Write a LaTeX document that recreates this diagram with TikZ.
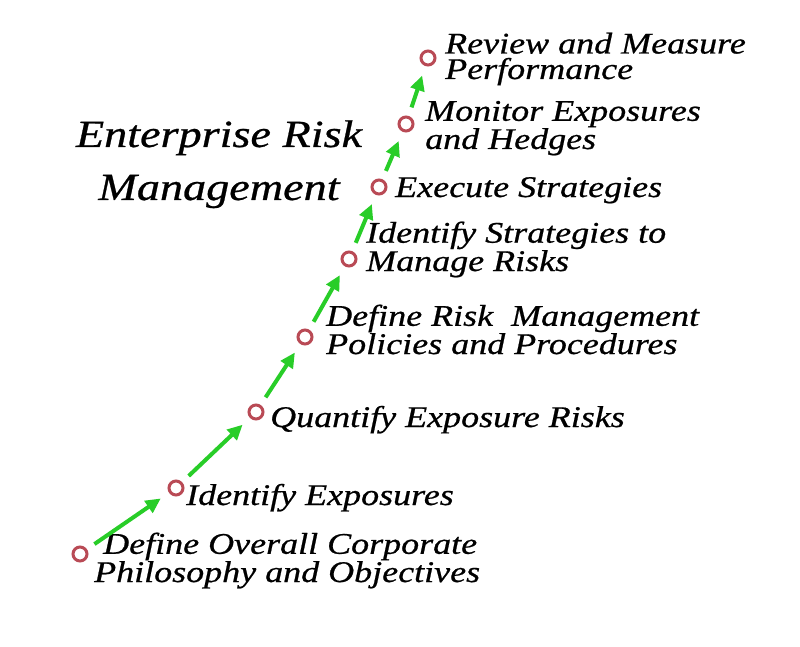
\documentclass[tikz,border=0pt]{standalone}
\usepackage{fontspec}
\usepackage{xcolor}
\usepackage{tikz}
\newfontfamily\stepfont{Liberation Serif Italic}[FakeStretch=1.2, FakeBold=0.7]
\definecolor{ringred}{RGB}{185, 74, 85}
\definecolor{arrowgreen}{RGB}{40, 205, 40}
\usetikzlibrary{arrows.meta}

\tikzset{
	stepdot/.style = {draw = ringred, circle, line width = 3pt, minimum size = 14pt, inner sep = 0pt, fill = white},
	steparrow/.style = {-{Triangle[length = 15pt, width = 14pt]}, draw = arrowgreen, line width = 4pt, shorten < = 9pt, shorten > = 10pt},
	steplabel/.style = {anchor = base west, align = left, inner sep = 0pt, font = \stepfont\fontsize{30}{25.5}\selectfont},
	titlelabel/.style = {anchor = base, align = center, inner sep = 0pt, font = \stepfont\fontsize{38.5}{53}\selectfont}
}

\begin{document}
\begin{tikzpicture}[x = 1pt, y = -1pt]
	\useasboundingbox[fill = white] (0,0) rectangle (800,647);
	
	% multi-line labels sit on the baseline of their last line
	\node[titlelabel] (title) at (219,200) {Enterprise Risk\\Management};
	
	\node[stepdot] (n1) at (80,554) {};
	\node[stepdot] (n2) at (176,488) {};
	\node[stepdot] (n3) at (256,412) {};
	\node[stepdot] (n4) at (305,337) {};
	\node[stepdot] (n5) at (349,259) {};
	\node[stepdot] (n6) at (379,187) {};
	\node[stepdot] (n7) at (406,124) {};
	\node[stepdot] (n8) at (428,58) {};
	
	\node[steplabel] (t1) at (94,582) {\hspace*{9pt}Define Overall Corporate\\Philosophy and Objectives};
	\node[steplabel] (t2) at (186,505) {Identify Exposures};
	\node[steplabel] (t3) at (270,427) {Quantify Exposure Risks};
	\node[steplabel] (t4) at (326,354) {Define Risk\ \ Management\\Policies and Procedures};
	\node[steplabel] (t5) at (366,271) {Identify Strategies to\\Manage Risks};
	\node[steplabel] (t6) at (395,197) {Execute Strategies};
	\node[steplabel] (t7) at (425,149) {Monitor Exposures\\and Hedges};
	\node[steplabel] (t8) at (445,79) {Review and Measure\\Performance};
	
	\draw[steparrow] (n1) -- (n2);
	\draw[steparrow] (n2) -- (n3);
	\draw[steparrow] (n3) -- (n4);
	\draw[steparrow] (n4) -- (n5);
	\draw[steparrow] (n5) -- (n6);
	\draw[steparrow] (n6) -- (n7);
	\draw[steparrow] (n7) -- (n8);
	
\end{tikzpicture}
\end{document}
